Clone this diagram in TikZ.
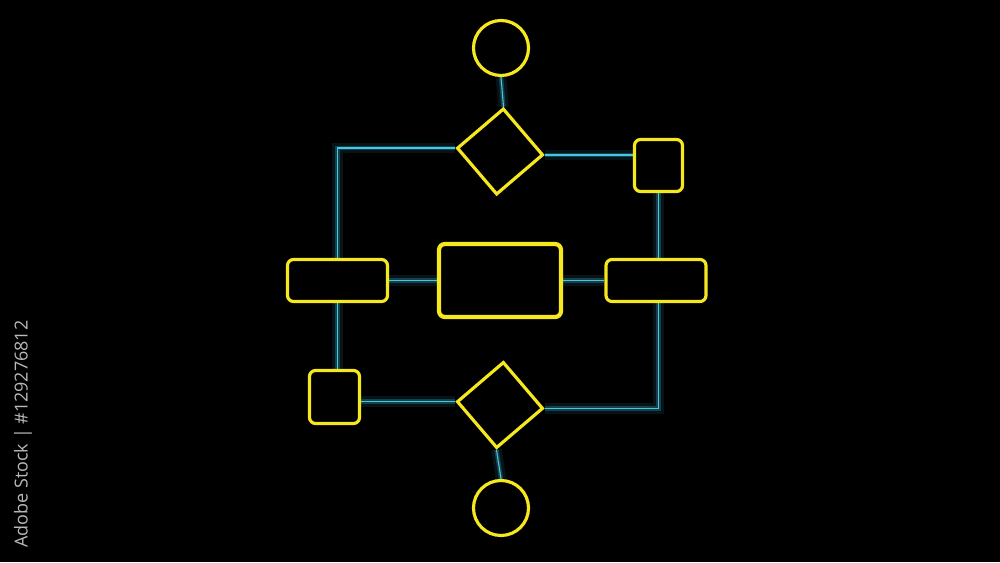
\documentclass[tikz,border=0pt]{standalone}
\usepackage{fontspec}
\newfontfamily\marca{Open Sans}
\usetikzlibrary{shapes.geometric,backgrounds}
\definecolor{neon}{RGB}{245,232,30}
\definecolor{wire}{RGB}{70,200,228}
\definecolor{marcagris}{RGB}{185,185,185}

\begin{document}
\begin{tikzpicture}[x=0.2mm,y=-0.2mm]
\tikzset{nodo/.style={circle,minimum size=11mm,inner sep=0pt,draw=neon,line width=1.8pt},
  caja/.style={rectangle,rounded corners=1.2mm,inner sep=0pt,draw=neon,line width=1.8pt},
  rombo/.style={diamond,aspect=1,minimum size=17.3mm,inner sep=0pt,draw=neon,line width=1.8pt,rotate=-4.5},
  cable/.style={wire,line width=.6pt,
    preaction={draw,wire,line width=6pt,opacity=.10},
    preaction={draw,wire,line width=2.5pt,opacity=.25}}}

  \useasboundingbox (0,0) rectangle (1000,562);

  \draw (501,48) node[nodo](ini) {};
  \draw (500,151.5) node[rombo](d1) {};
  \draw (658.5,165.5) node[caja,minimum width=9.6mm,minimum height=10.4mm](sq1) {};
  \draw (337.5,280.5) node[caja,minimum width=20mm,minimum height=8.4mm](izq) {};
  \draw (500,280.5) node[caja,minimum width=24.4mm,minimum height=14.6mm,line width=2.4pt](cen) {};
  \draw (656,280.5) node[caja,minimum width=20mm,minimum height=8.4mm](der) {};
  \draw (334.5,397) node[caja,minimum width=10mm,minimum height=10.6mm](sq2) {};
  \draw (500,405) node[rombo](d2) {};
  \draw (501,508) node[nodo](fin) {};

  \draw (23,434) node[rotate=90,text=marcagris,font=\marca\fontsize{10.2}{12}\selectfont](id) {Adobe Stock | \#129276812};

  \begin{scope}[on background layer]
    \fill[black] (0,0) rectangle (1000,562);

	\draw[cable] (ini.south) -- (d1.north);
	\draw[cable] (d1.west) -| (izq.north);
	\draw[cable] (d1.east) -- (d1.east -| sq1.west);
	\draw[cable] (sq1.south) -- (sq1.south |- der.north);

	\draw[cable] (izq.east) -- (cen.west);
	\draw[cable] (cen.east) -- (der.west);

	\draw[cable] (izq.south) -- (izq.south |- sq2.north);
	\draw[cable] (d2.west) -- (d2.west -| sq2.east);
	\draw[cable] (d2.east) -| (sq1.south |- der.south);
	\draw[cable] (d2.south) -- (fin.north);
  \end{scope}
\end{tikzpicture}
\end{document}
